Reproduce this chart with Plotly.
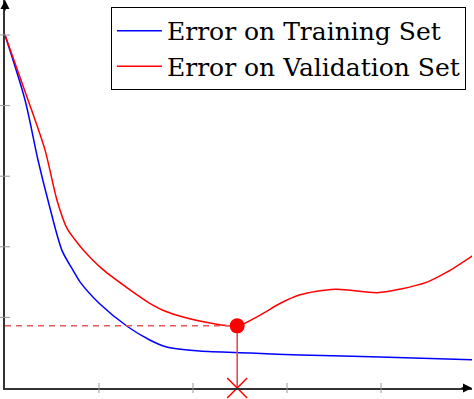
import plotly.graph_objects as go

# Data
train_x = [0, 0.213, 0.351, 0.457, 0.606, 0.723, 0.80, 1.01, 1.31, 1.54, 1.72, 2.07, 2.61, 3.14, 3.99, 4.99]
train_y = [5.0, 4.08, 3.23, 2.66, 1.95, 1.67, 1.50, 1.19, 0.864, 0.68, 0.58, 0.524, 0.496, 0.467, 0.44, 0.40]

val_x = [0, 0.245, 0.426, 0.553, 0.66, 0.745, 0.83, 1.04, 1.33, 1.54, 1.72, 2.07, 2.47,
         2.71, 2.93, 3.14, 3.51, 3.96, 4.20, 4.49, 4.70, 4.98]
val_y = [5.0, 4.08, 3.37, 2.66, 2.26, 2.10, 1.96, 1.68, 1.39, 1.20, 1.08, 0.95, 0.88,
         1.03, 1.20, 1.32, 1.40, 1.35, 1.40, 1.50, 1.64, 1.88]

best_x = 2.47
best_y = 0.88

x_ticks = [1, 2, 3, 4]
y_ticks = [1, 2, 3, 4, 5]

X_MAX = 4.968
Y_MAX = 5.496

fig = go.Figure()

fig.add_trace(go.Scatter(x=train_x, y=train_y, mode="lines", name="Error on Training Set",
                         line=dict(color="#0000ff", width=1.5, shape="spline", smoothing=0.8)))
fig.add_trace(go.Scatter(x=val_x, y=val_y, mode="lines", name="Error on Validation Set",
                         line=dict(color="#ff0000", width=1.5, shape="spline", smoothing=0.8)))

# dashed horizontal guide
fig.add_trace(go.Scatter(x=[0, best_x], y=[best_y, best_y], mode="lines", showlegend=False,
                         line=dict(color="#e8585a", width=1.5, dash="6px,5px"), hoverinfo="skip"))
# vertical drop
fig.add_trace(go.Scatter(x=[best_x, best_x], y=[best_y, 0], mode="lines", showlegend=False,
                         line=dict(color="#e84040", width=1.5), hoverinfo="skip"))
# best point
fig.add_trace(go.Scatter(x=[best_x], y=[best_y], mode="markers", showlegend=False,
                         marker=dict(color="#ff0000", size=15, line=dict(width=0)), cliponaxis=False))
# X marker on axis
fig.add_trace(go.Scatter(x=[best_x], y=[0], mode="markers", showlegend=False, cliponaxis=False,
                         marker=dict(symbol="x-thin-open", size=20, color="#ff0000",
                                     line=dict(color="#ff0000", width=1.5))))

shapes = []
for v in y_ticks:
    shapes.append(dict(type="line", xref="paper", yref="y", x0=-5 / 467, x1=5 / 467, y0=v, y1=v,
                       line=dict(color="#999999", width=1)))
for v in x_ticks:
    shapes.append(dict(type="line", xref="x", yref="paper", x0=v, x1=v, y0=-5 / 388, y1=5 / 388,
                       line=dict(color="#999999", width=1)))

annotations = [
    dict(x=0, y=Y_MAX, xref="x", yref="y", ax=0, ay=12, text="", showarrow=True,
         arrowhead=2, arrowsize=1.2, arrowwidth=1.5, arrowcolor="#000000"),
    dict(x=X_MAX, y=0, xref="x", yref="y", ax=-12, ay=0, text="", showarrow=True,
         arrowhead=2, arrowsize=1.2, arrowwidth=1.5, arrowcolor="#000000"),
]

fig.update_layout(
    width=474, height=399,
    margin=dict(l=5, r=2, t=0, b=11),
    paper_bgcolor="white", plot_bgcolor="white",
    showlegend=True,
    legend=dict(x=0.987, y=0.982, xanchor="right", yanchor="top",
                bordercolor="#000000", borderwidth=1, bgcolor="white",
                font=dict(family="DejaVu Serif, serif", size=25, color="#000000"),
                tracegroupgap=0, itemwidth=45),
    xaxis=dict(range=[0, X_MAX], showline=True, linecolor="#333333", linewidth=1.5,
               showgrid=False, zeroline=False, showticklabels=False, ticks=""),
    yaxis=dict(range=[0, Y_MAX], showline=True, linecolor="#333333", linewidth=1.5,
               showgrid=False, zeroline=False, showticklabels=False, ticks=""),
    shapes=shapes,
    annotations=annotations,
)

fig.write_html("out.html", config={"displayModeBar": False},
               post_script="document.body.style.margin='0';")
